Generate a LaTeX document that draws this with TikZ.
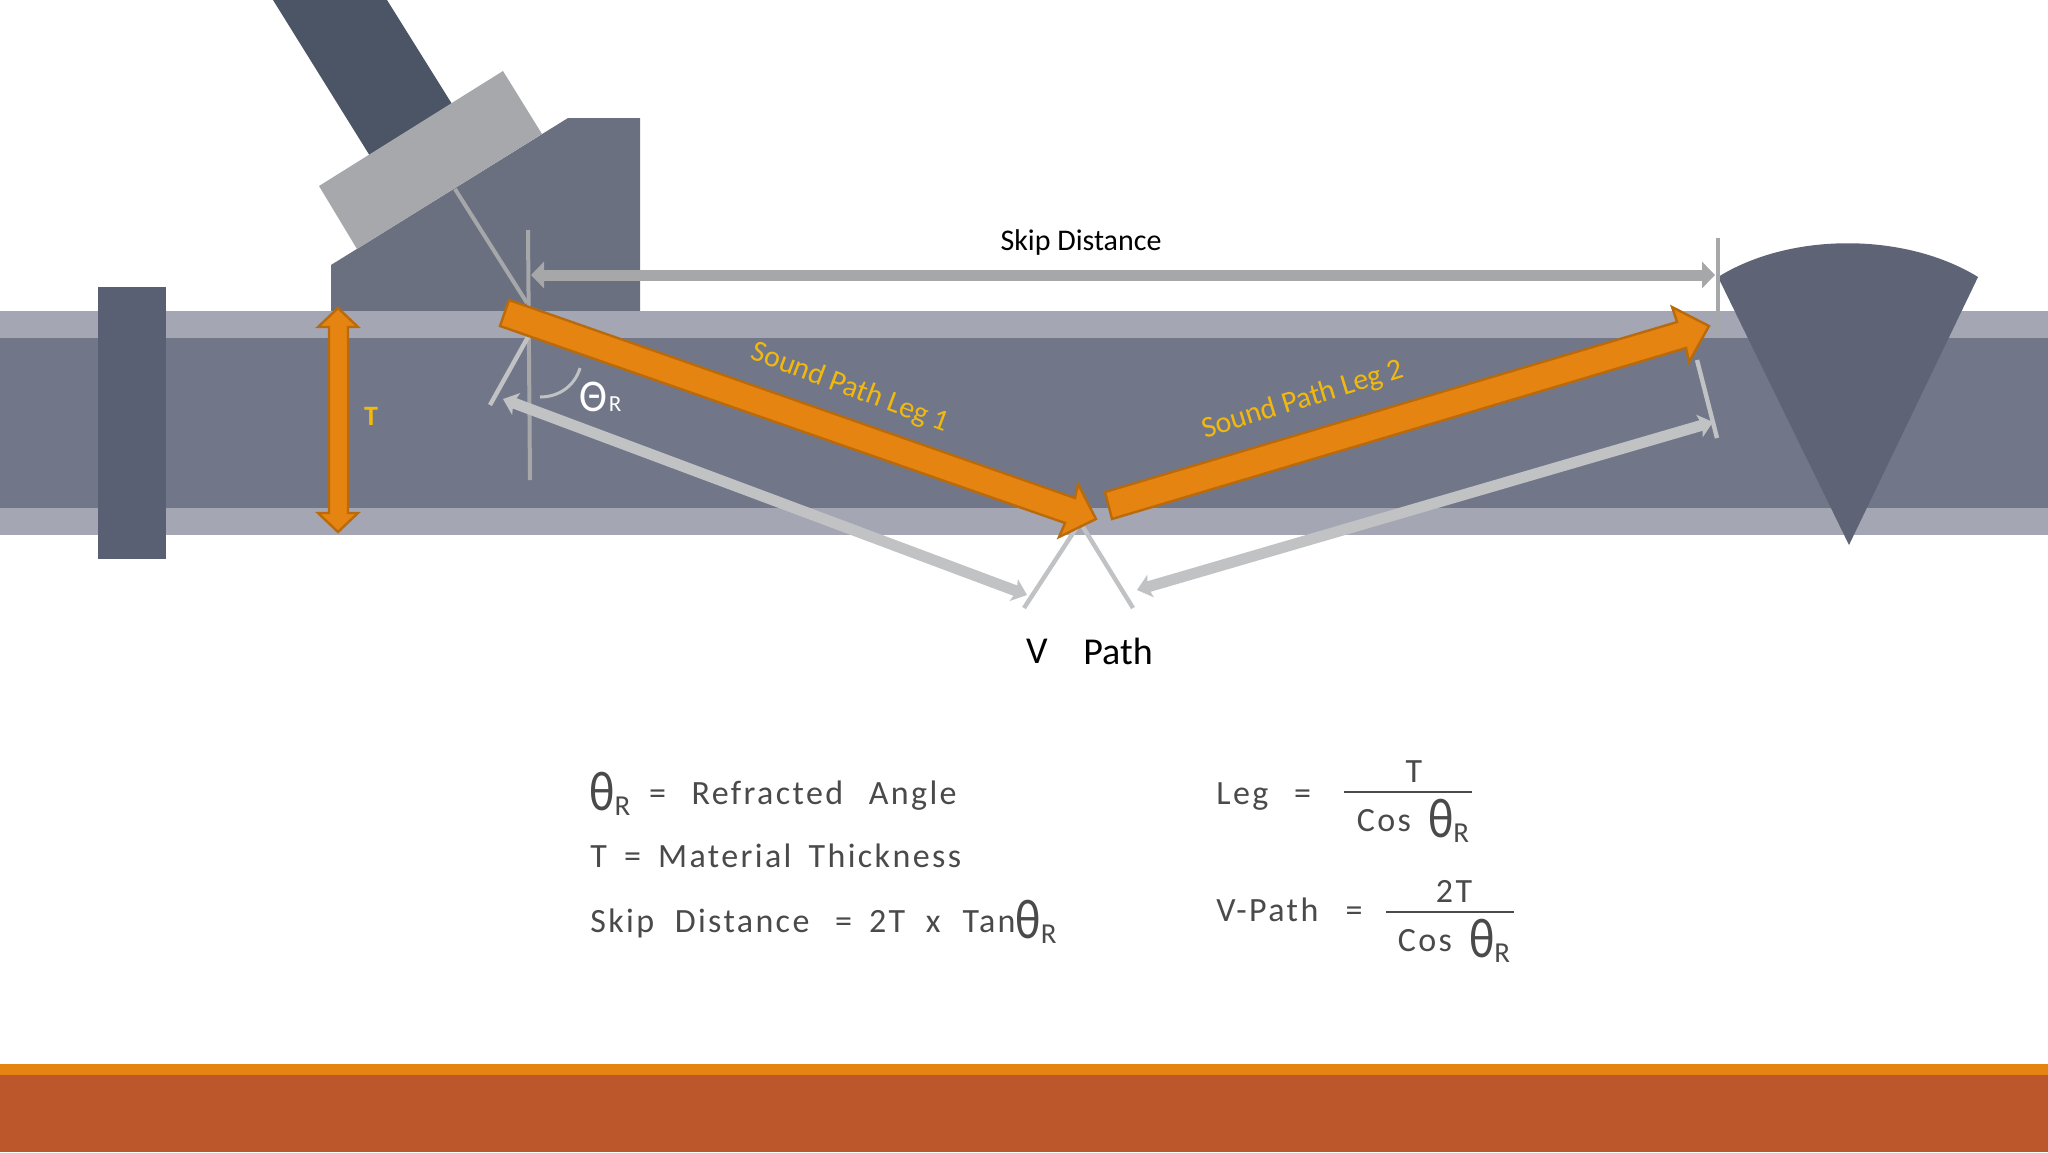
\documentclass[tikz,border=0pt]{standalone}
\usepackage{fontspec}
\setmainfont{Carlito}
\newfontfamily\fmf[LetterSpace=7,WordSpace=1.7]{Carlito}
\usetikzlibrary{calc,arrows.meta}
\definecolor{bandlight}{HTML}{A4A7B3}
\definecolor{bandmid}{HTML}{717788}
\definecolor{wedgec}{HTML}{6B7081}
\definecolor{probec}{HTML}{4B5566}
\definecolor{platec}{HTML}{A6A8AB}
\definecolor{blockc}{HTML}{596073}
\definecolor{weldc}{HTML}{5E6475}
\definecolor{orangef}{HTML}{E58410}
\definecolor{oranged}{HTML}{B96A0C}
\definecolor{skipg}{HTML}{A5A7A9}
\definecolor{vg}{HTML}{C0C2C4}
\definecolor{labely}{HTML}{F2B90C}
\definecolor{rust}{HTML}{BC572B}
\definecolor{fmg}{HTML}{4A4A4A}
\tikzset{
 blockarrow/.style={fill=orangef,draw=oranged,line width=1.2pt,line join=miter},
 thinline/.style={draw=skipg,line width=2pt},
 vline/.style={draw=vg,line width=2.2pt},
 skiparrow/.style={draw=skipg,line width=5.5pt,{Triangle[length=6.5pt,width=13pt]}-{Triangle[length=6.5pt,width=13pt]}},
 patharrow/.style={draw=vg,line width=5.5pt,{Stealth[length=7pt,width=11.5pt,inset=1.5pt]}-{Stealth[length=7pt,width=11.5pt,inset=1.5pt]}},
 fm/.style={font=\fontsize{17}{20}\fmf,text=fmg,inner sep=0pt,anchor=base west},
 fmc/.style={font=\fontsize{17}{20}\fmf,text=fmg,inner sep=0pt,anchor=base},
 fracbar/.style={draw=fmg,line width=1pt},
 legl/.style={font=\fontsize{15}{17}\selectfont,text=labely,inner sep=0pt},
 callout/.style={font=\fontsize{19}{22}\selectfont,text=black,inner sep=0pt},
}
\newcommand{\thR}{\raisebox{-0.19em}{\scalebox{1.4}[1.65]{θ}}\raisebox{-0.35em}{\scalebox{.85}{R}}}
\begin{document}
\begin{tikzpicture}[x=0.5pt,y=-0.5pt]
\useasboundingbox (0,0) rectangle (2048,1152);
\fill[white] (0,0) rectangle (2048,1152);
% footer
\fill[rust] (0,1075) rectangle (2048,1152);
\fill[orangef] (0,1064) rectangle (2048,1075);
% wedge, probe
\fill[probec] (273,0) -- (387,0) -- (452,104) -- (370,156) -- cycle;
\fill[wedgec] (331,265) -- (568,118) -- (640,118) -- (640,312) -- (331,312) -- cycle;
\fill[platec] (503,71) -- (542,134) -- (357,249) -- (319,186) -- cycle;
% pipe
\fill[bandlight] (0,311) rectangle (2048,535);
\fill[bandmid] (0,338) rectangle (2048,508);
\fill[blockc] (98,287) rectangle (166,559);
% weld
\fill[weldc] (1718,277) .. controls (1790,232) and (1905,232) .. (1978,277) -- (1849,545) -- cycle;
% thin lines
\coordinate (refA) at (455,189);
\coordinate (refB) at (527,303);
\coordinate (refC) at (528,337);
\coordinate (refD) at (490,405);
\coordinate (vertTop) at (528,230);
\coordinate (vertBot) at (530,480);
\draw[thinline] (refA) -- (refB);
\draw[thinline] (vertTop) -- (vertBot);
\draw[vline] (refC) -- (refD);
\coordinate (tickTop) at (1718,238);
\coordinate (tickBot) at (1718,337);
\draw[thinline] (tickTop) -- (tickBot);
\coordinate (tick2A) at (1697,360);
\coordinate (tick2B) at (1717,438);
\draw[vline] (tick2A) -- (tick2B);
\coordinate (vLa) at (1024,608);
\coordinate (vLb) at (1077,527);
\coordinate (vRa) at (1083,527);
\coordinate (vRb) at (1133,608);
\draw[vline] (vLa) -- (vLb);
\draw[vline] (vRa) -- (vRb);
% skip arrow
\coordinate (skipL) at (531,275);
\coordinate (skipR) at (1715,275);
\draw[skiparrow] (skipL) -- (skipR);
% V path arrows
\coordinate (p1a) at (503,399);
\coordinate (p1b) at (1027,595);
\coordinate (p2a) at (1137,590);
\coordinate (p2b) at (1713,422);
\draw[patharrow] (p1a) -- (p1b);
\draw[patharrow] (p2a) -- (p2b);
% orange arrows
\draw[blockarrow] (338,308) -- (358,327) -- (348,327) -- (348,513) -- (358,513) -- (338,532) -- (318,513) -- (329,513) -- (329,327) -- (318,327) -- cycle;
\draw[blockarrow] (509,300) -- (1075,498) -- (1078,484) -- (1096,519) -- (1059,537) -- (1065,523) -- (500,326) -- cycle;
\draw[blockarrow] (1105,492) -- (1677,322) -- (1672,307) -- (1709,326) -- (1689,362) -- (1686,348) -- (1112,519) -- cycle;
% angle arc
\draw[vg,line width=1.5pt] (580,368) .. controls (575,385) and (560,397) .. (540,397);
% labels
\node[inner sep=0pt,text=white,font=\fontsize{21}{24}\selectfont] (thdia) at (593,397) {\scalebox{1}[1.08]{Θ}};
\node[inner sep=0pt,text=white,font=\fontsize{11.5}{14}\selectfont] (thdiaR) at (615,404) {R};
\node[inner sep=0pt,text=labely,font=\fontsize{14}{16}\bfseries] (tlab) at (371,416) {T};
\node[inner sep=0pt,font=\fontsize{15}{17}\selectfont] (skip) at (1081,242) {Skip Distance};
\node[callout] (vlab) at (1037,651) {V};
\node[callout] (plab) at (1118,651) {Path};
\node[legl,rotate=-20.5] (leg1) at (850,388) {Sound Path Leg 1};
\node[legl,rotate=17] (leg2) at (1303,400) {Sound Path Leg 2};
% formulas
\node[fm] (f1) at (589,804) {\thR{}\hspace{0.55em}=\hspace{0.25em} Refracted\hspace{0.25em} Angle};
\node[fm] (f2) at (590,867) {T = Material Thickness};
\node[fm] (f3) at (590,932) {Skip\hspace{0.1em} Distance\hspace{0.25em} = 2T\hspace{0.1em} x\hspace{0.15em} Tan\thR};
\node[fm] (f4) at (1216,804) {Leg\hspace{0.25em} =};
\coordinate (b1a) at (1344,792);
\coordinate (b1b) at (1472,792);
\draw[fracbar] (b1a) -- (b1b);
\node[fmc] (f4n) at (1414,782) {T};
\node[fmc] (f4d) at (1413,831) {Cos \thR};
\node[fm] (f5) at (1216,921) {V-Path\hspace{0.3em} =};
\coordinate (b2a) at (1386,912);
\coordinate (b2b) at (1514,912);
\draw[fracbar] (b2a) -- (b2b);
\node[fmc] (f5n) at (1454,902) {2T};
\node[fmc] (f5d) at (1454,951) {Cos \thR};
\end{tikzpicture}
\end{document}
